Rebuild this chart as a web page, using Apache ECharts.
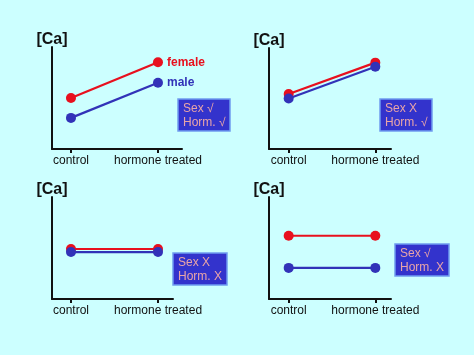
<!DOCTYPE html>
<html><head><meta charset="utf-8">
<script src="https://cdn.jsdelivr.net/npm/echarts@6/dist/echarts.min.js"></script>
<style>html,body{margin:0;padding:0;background:#ccffff;}#c{width:474px;height:355px;}</style>
</head><body><div id="c"></div>
<script>
const categories = ['control', 'hormone treated'];
const yTitle = '[Ca]';
// panel order: top-left, top-right, bottom-left, bottom-right
const female1 = [5.0, 8.5];
const male1 = [3.05, 6.5];
const female2 = [5.45, 8.55];
const male2 = [5.0, 8.15];
const female3 = [4.9, 4.9];
const male3 = [4.6, 4.6];
const female4 = [6.2, 6.2];
const male4 = [3.05, 3.05];
const boxTexts = ['Sex \u221A\nHorm. \u221A', 'Sex X\nHorm. \u221A', 'Sex X\nHorm. X', 'Sex \u221A\nHorm. X'];
const seriesNames = ['female', 'male'];

const RED = '#e8101e', BLUE = '#3232b8', AX = '#111';
const panels = [
  {f: female1, m: male1, grid: {left: 52, top: 47, width: 130, height: 102}, xr: [-0.218, 1.276], box: [178, 99], showNames: true},
  {f: female2, m: male2, grid: {left: 269, top: 48, width: 122, height: 101}, xr: [-0.227, 1.181], box: [380, 99]},
  {f: female3, m: male3, grid: {left: 52, top: 197, width: 121, height: 102}, xr: [-0.218, 1.172], box: [173, 253]},
  {f: female4, m: male4, grid: {left: 269, top: 197, width: 122, height: 102}, xr: [-0.227, 1.181], box: [395, 244]}
];
const grid = [], xAxis = [], yAxis = [], series = [], title = [];
panels.forEach((p, i) => {
  grid.push(Object.assign({}, p.grid));
  xAxis.push({type: 'value', gridIndex: i, min: p.xr[0], max: p.xr[1],
    splitLine: {show: false},
    axisLine: {show: true, onZero: false, lineStyle: {color: AX, width: 2}},
    axisTick: {show: true, customValues: [0, 1], length: 4, lineStyle: {color: AX, width: 2}},
    axisLabel: {show: true, customValues: [0, 1], margin: 6, color: '#111', fontSize: 12,
      fontFamily: 'Liberation Sans, Arial, sans-serif', formatter: v => categories[Math.round(v)]}
  });
  yAxis.push({type: 'value', gridIndex: i, min: 0, max: 10,
    name: yTitle, nameLocation: 'end', nameGap: -1,
    nameTextStyle: {color: '#111', fontSize: 16, fontWeight: 'bold', fontFamily: 'Liberation Sans, Arial, sans-serif', align: 'center'},
    splitLine: {show: false}, axisTick: {show: false}, axisLabel: {show: false},
    axisLine: {show: true, onZero: false, lineStyle: {color: AX, width: 2}}
  });
  [[p.f, RED, seriesNames[0]], [p.m, BLUE, seriesNames[1]]].forEach(([vals, col, nm]) => {
    series.push({type: 'line', name: nm, xAxisIndex: i, yAxisIndex: i,
      data: vals.map((v, k) => [k, v]),
      symbol: 'circle', symbolSize: 10, color: col,
      lineStyle: {color: col, width: 2.2}, itemStyle: {color: col},
      animation: false, silent: true,
      label: {show: !!p.showNames, position: 'right', distance: 4, color: col, fontWeight: 'bold', fontSize: 12,
        fontFamily: 'Liberation Sans, Arial, sans-serif',
        formatter: prm => prm.dataIndex === 1 ? nm : ''}
    });
  });
  title.push({text: boxTexts[i], left: p.box[0], top: p.box[1],
    backgroundColor: '#3333cc', borderColor: '#6f9cf0', borderWidth: 1.5,
    padding: [3, 5, 2, 5],
    textStyle: {color: '#e8a4a8', fontSize: 12, fontWeight: 'normal', lineHeight: 13.5,
      fontFamily: 'Liberation Sans, Arial, sans-serif', width: 41}
  });
});
const chart = echarts.init(document.getElementById('c'), null, {renderer: 'canvas'});
chart.setOption({backgroundColor: '#ccffff', animation: false, title, grid, xAxis, yAxis, series});
</script></body></html>
